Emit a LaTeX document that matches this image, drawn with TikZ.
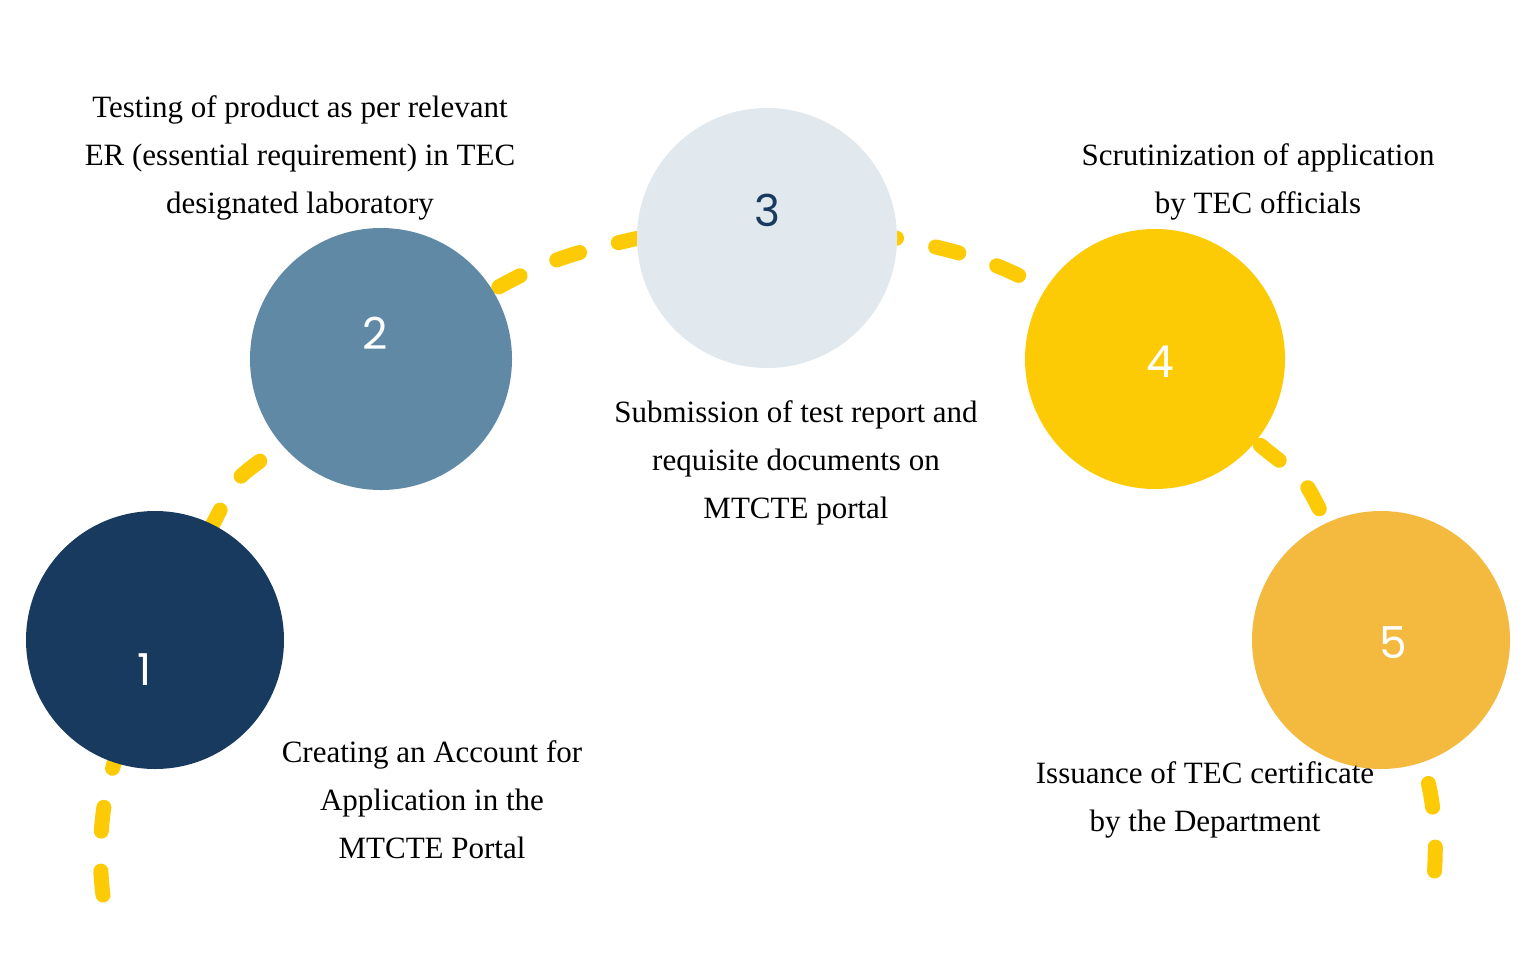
\documentclass[tikz,border=0pt]{standalone}
\usepackage{fontspec}
\setmainfont{Liberation Serif}
\newfontfamily\numfont{Poppins}
\begin{document}
\begin{tikzpicture}[x=1pt,y=-1pt,
  blob/.style={circle,minimum size=#1,inner sep=0pt},
  num/.style={font=\numfont\fontsize{44}{44}\selectfont},
  lbl/.style={align=center,font=\fontsize{31}{48}\selectfont},
  ydash/.style={draw=yellow1,line width=15pt,line cap=round,dash pattern=on 24pt off 40pt}]
\definecolor{yellow1}{HTML}{FDCB05}
\definecolor{c1}{HTML}{173A5E}
\definecolor{c2}{HTML}{6089A6}
\definecolor{c3}{HTML}{E1E8EE}
\definecolor{c4}{HTML}{FDCB05}
\definecolor{c5}{HTML}{F3BA3F}
\useasboundingbox (0,0) rectangle (1536,970);
\draw[ydash] plot[smooth,tension=0.6] coordinates {(103,895) (112,770) (215,520) (280,445) (490,292) (630,240) (767,228) (905,240) (1050,292) (1260,445) (1325,520) (1425,770) (1432,895)};
\node[blob=258pt,fill=c1] (b1) at (155,640) {};
\node[blob=262pt,fill=c2] (b2) at (381,359) {};
\node[blob=260pt,fill=c3] (b3) at (767,238) {};
\node[blob=260pt,fill=c4] (b4) at (1155,359) {};
\node[blob=258pt,fill=c5] (b5) at (1381,640) {};
\node[num,text=white] (n1) at (145,670) {1};
\node[num,text=white] (n2) at (375,333) {2};
\node[num,text=c1] (n3) at (767,210) {3};
\node[num,text=white] (n4) at (1160,362) {4};
\node[num,text=white] (n5) at (1393,643) {5};
\node[lbl] (l2) at (300,158) {Testing of product as per relevant\\ER (essential requirement) in TEC\\designated laboratory};
\node[lbl] (l3) at (796,463) {Submission of test report and\\requisite documents on\\MTCTE portal};
\node[lbl] (l4) at (1258,182) {Scrutinization of application\\by TEC officials};
\node[lbl] (l1) at (432,800) {Creating an Account for\\Application in the\\MTCTE Portal};
\node[lbl] (l5) at (1205,800) {Issuance of TEC certificate\\by the Department};
\end{tikzpicture}
\end{document}
